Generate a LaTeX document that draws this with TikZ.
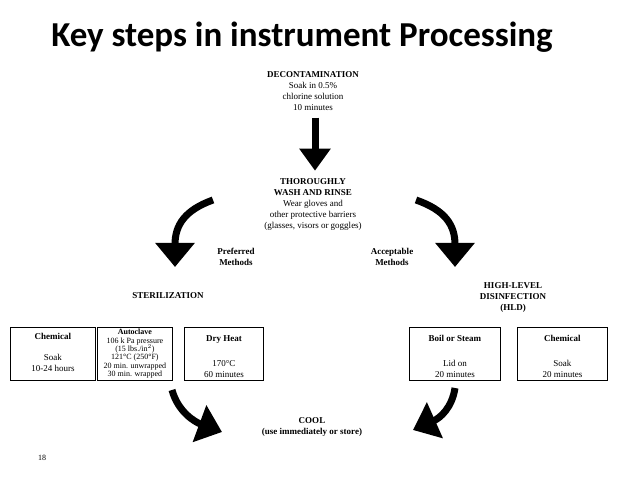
\documentclass[tikz,border=0pt]{standalone}
\usepackage{fontspec}
\setmainfont{Liberation Serif}
\newfontfamily\titlefont{Carlito}
\usetikzlibrary{arrows.meta}
\tikzset{
	txt/.style={align=center, font=\fontsize{9}{11}\selectfont, inner sep=0pt},
	hd/.style={align=center, font=\fontsize{9}{11}\selectfont\bfseries, inner sep=0pt},
	box/.style={draw, line width=0.8pt, minimum height=53pt, anchor=north west, inner sep=0pt},
	bigarrow/.style={line width=7pt, -{Triangle[width=38pt,length=24pt]}},
}
\begin{document}
\begin{tikzpicture}[x=1pt,y=-1pt]
	\useasboundingbox (0,0) rectangle (638,478);
	\node[font=\titlefont\fontsize{35}{38}\selectfont\bfseries] (title) at (302,37) {Key steps in instrument Processing};

	\node[txt] (decon) at (313,91) {\textbf{DECONTAMINATION}\\Soak in 0.5\%\\chlorine solution\\10 minutes};
	\node[txt] (wash) at (313,204) {\textbf{THOROUGHLY}\\\textbf{WASH AND RINSE}\\Wear gloves and\\other protective barriers\\(glasses, visors or goggles)};
	\node[hd] (pref) at (236,257) {Preferred\\Methods};
	\node[hd] (acc) at (392,257) {Acceptable\\Methods};
	\node[hd] (steril) at (168,296) {STERILIZATION};
	\node[hd] (hld) at (513,297) {HIGH-LEVEL\\DISINFECTION\\(HLD)};
	\node[hd] (cool) at (312,427) {COOL\\(use immediately or store)};
	\node[font=\fontsize{8}{9}\selectfont] (pg) at (42,458) {18};

	% method boxes
	\node[box, minimum width=85pt] (chem1) at (10,327) {};
	\node[box, minimum width=75pt] (auto) at (97,327) {};
	\node[box, minimum width=79pt] (dry) at (184,327) {};
	\node[box, minimum width=91pt] (boil) at (409,327) {};
	\node[box, minimum width=90pt] (chem2) at (517,327) {};
	\node[hd, anchor=north] at ([yshift=-6pt]chem1.north) {Chemical};
	\node[txt, anchor=south] at ([yshift=9pt]chem1.south) {Soak\\10-24 hours};
	\node[txt, anchor=north, font=\fontsize{8}{8.4}\selectfont] at ([yshift=-2pt]auto.north) {\textbf{Autoclave}\\106 k Pa pressure\\(15 lbs./in$^2$)\\121\textdegree C (250\textdegree F)\\20 min. unwrapped\\30 min. wrapped};
	\node[hd, anchor=north] at ([yshift=-8pt]dry.north) {Dry Heat};
	\node[txt, anchor=south] at ([yshift=3pt]dry.south) {170\textdegree C\\60 minutes};
	\node[hd, anchor=north] at ([yshift=-8pt]boil.north) {Boil or Steam};
	\node[txt, anchor=south] at ([yshift=3pt]boil.south) {Lid on\\20 minutes};
	\node[hd, anchor=north] at ([yshift=-8pt]chem2.north) {Chemical};
	\node[txt, anchor=south] at ([yshift=3pt]chem2.south) {Soak\\20 minutes};

	\coordinate (l1) at (175,267);
	\coordinate (r1) at (455,267);
	\coordinate (l2) at (222,432);
	\coordinate (r2) at (413,430);

	\draw[bigarrow, -{Triangle[width=30pt,length=22pt]}] (decon.south) ++(2,7) -- ++(0,53);
	\draw[bigarrow] (213,200) .. controls (185,210) and (175,225) .. (l1);
	\draw[bigarrow] (416,200) .. controls (445,210) and (455,225) .. (r1);
	\draw[bigarrow] (172,390) .. controls (178,412) and (195,422) .. (l2);
	\draw[bigarrow] (455,388) .. controls (452,408) and (440,418) .. (r2);
\end{tikzpicture}
\end{document}
